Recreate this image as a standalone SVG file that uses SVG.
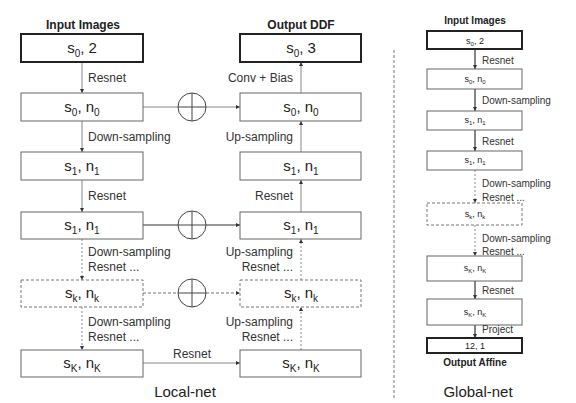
<svg xmlns="http://www.w3.org/2000/svg" width="576" height="403" viewBox="0 0 576 403">
<defs>
<marker id="ah" viewBox="0 0 6 6" refX="6" refY="3" markerWidth="4" markerHeight="4" orient="auto" markerUnits="userSpaceOnUse">
<path d="M0,0 L6,3 L0,6 z" fill="#333"/>
</marker>
<style>
.box{fill:#fff;stroke:#666;stroke-width:1}
.thick{fill:#fff;stroke:#222;stroke-width:2}
.dbox{fill:#fff;stroke:#777;stroke-width:1;stroke-dasharray:3,2}
.ln{fill:none;stroke:#888;stroke-width:1}
.lnd{fill:none;stroke:#333;stroke-width:1.2}
.dot{fill:none;stroke:#888;stroke-width:1;stroke-dasharray:2,2}
.dash{fill:none;stroke:#777;stroke-width:1;stroke-dasharray:3,2}
.bt{font-family:"Liberation Sans",Arial,sans-serif;font-size:15px;fill:#222;text-anchor:middle}
.st{font-family:"Liberation Sans",Arial,sans-serif;font-size:9px;fill:#222;text-anchor:middle}
.lb{font-family:"Liberation Sans",Arial,sans-serif;font-size:12px;fill:#333}
.lbs{font-family:"Liberation Sans",Arial,sans-serif;font-size:10px;fill:#333}
.hd{font-family:"Liberation Sans",Arial,sans-serif;font-size:12px;font-weight:bold;fill:#222;text-anchor:middle}
.hds{font-family:"Liberation Sans",Arial,sans-serif;font-size:10px;font-weight:bold;fill:#222;text-anchor:middle}
.tt{font-family:"Liberation Sans",Arial,sans-serif;font-size:15px;fill:#222;text-anchor:middle}
.circ{fill:#fff;stroke:#444;stroke-width:1}
</style>
</defs>

<!-- headings -->
<text class="hd" x="83" y="29">Input Images</text>
<text class="hd" x="301" y="29">Output DDF</text>
<text class="hds" x="475" y="24">Input Images</text>

<g id="connectors">
  <!-- local-net down path -->
  <line class="ln" x1="82" y1="62" x2="82" y2="93" marker-end="url(#ah)"/>
  <line class="ln" x1="82" y1="121" x2="82" y2="152" marker-end="url(#ah)"/>
  <line class="ln" x1="82" y1="180" x2="82" y2="212" marker-end="url(#ah)"/>
  <line class="dot" x1="82" y1="239" x2="82" y2="280" marker-end="url(#ah)"/>
  <line class="dot" x1="82" y1="307" x2="82" y2="350" marker-end="url(#ah)"/>
  <!-- local-net up path -->
  <line class="dot" x1="301" y1="350" x2="301" y2="307" marker-end="url(#ah)"/>
  <line class="dot" x1="301" y1="280" x2="301" y2="239" marker-end="url(#ah)"/>
  <line class="ln" x1="301" y1="212" x2="301" y2="180" marker-end="url(#ah)"/>
  <line class="ln" x1="301" y1="152" x2="301" y2="121" marker-end="url(#ah)"/>
  <line class="ln" x1="301" y1="93" x2="301" y2="62" marker-end="url(#ah)"/>
  <!-- skip connections -->
  <line class="ln" x1="143" y1="107" x2="178" y2="107"/>
  <line class="ln" x1="206" y1="107" x2="240" y2="107" marker-end="url(#ah)"/>
  <line class="lnd" x1="143" y1="225" x2="178" y2="225"/>
  <line class="lnd" x1="206" y1="225" x2="240" y2="225" marker-end="url(#ah)"/>
  <line class="dash" x1="143" y1="293" x2="178" y2="293"/>
  <line class="dash" x1="206" y1="293" x2="240" y2="293" marker-end="url(#ah)"/>
  <line class="ln" x1="143" y1="363" x2="240" y2="363" marker-end="url(#ah)"/>
  <!-- global-net -->
  <line class="lnd" x1="475" y1="49" x2="475" y2="69" marker-end="url(#ah)"/>
  <line class="lnd" x1="475" y1="89" x2="475" y2="111" marker-end="url(#ah)"/>
  <line class="lnd" x1="475" y1="130" x2="475" y2="151" marker-end="url(#ah)"/>
  <line class="dot" x1="475" y1="170" x2="475" y2="203" marker-end="url(#ah)"/>
  <line class="dot" x1="475" y1="225" x2="475" y2="256" marker-end="url(#ah)"/>
  <line class="lnd" x1="475" y1="281" x2="475" y2="299" marker-end="url(#ah)"/>
  <line class="lnd" x1="475" y1="325" x2="475" y2="338" marker-end="url(#ah)"/>
  <!-- separator -->
  <line class="dash" x1="394" y1="50" x2="394" y2="400" stroke-dasharray="2,2"/>
</g>

<!-- sum nodes -->
<g id="sum0"><circle class="circ" cx="192" cy="107" r="14"/><line x1="178" y1="107" x2="206" y2="107" stroke="#444"/><line x1="192" y1="93" x2="192" y2="121" stroke="#444"/></g>
<g id="sum1"><circle class="circ" cx="192" cy="225" r="14"/><line x1="178" y1="225" x2="206" y2="225" stroke="#444"/><line x1="192" y1="211" x2="192" y2="239" stroke="#444"/></g>
<g id="sumk"><circle class="circ" cx="192" cy="293" r="14"/><line x1="178" y1="293" x2="206" y2="293" stroke="#444"/><line x1="192" y1="279" x2="192" y2="307" stroke="#444"/></g>

<!-- local-net left column -->
<g id="L_in"><rect class="thick" x="21" y="34" width="122" height="28"/><text class="bt" x="82" y="53">s<tspan font-size="10" dy="4">0</tspan><tspan dy="-4">, 2</tspan></text></g>
<g id="L0"><rect class="box" x="21" y="93" width="122" height="28"/><text class="bt" x="82" y="112">s<tspan font-size="10" dy="4">0</tspan><tspan dy="-4">, n</tspan><tspan font-size="10" dy="4">0</tspan></text></g>
<g id="L1a"><rect class="box" x="21" y="152" width="122" height="28"/><text class="bt" x="82" y="171">s<tspan font-size="10" dy="4">1</tspan><tspan dy="-4">, n</tspan><tspan font-size="10" dy="4">1</tspan></text></g>
<g id="L1b"><rect class="box" x="21" y="212" width="122" height="27"/><text class="bt" x="82" y="230">s<tspan font-size="10" dy="4">1</tspan><tspan dy="-4">, n</tspan><tspan font-size="10" dy="4">1</tspan></text></g>
<g id="Lk"><rect class="dbox" x="21" y="280" width="122" height="27"/><text class="bt" x="82" y="298">s<tspan font-size="10" dy="4">k</tspan><tspan dy="-4">, n</tspan><tspan font-size="10" dy="4">k</tspan></text></g>
<g id="LK"><rect class="box" x="21" y="350" width="122" height="27"/><text class="bt" x="82" y="368">s<tspan font-size="10" dy="4">K</tspan><tspan dy="-4">, n</tspan><tspan font-size="10" dy="4">K</tspan></text></g>

<!-- local-net right column -->
<g id="R_out"><rect class="thick" x="240" y="34" width="121" height="28"/><text class="bt" x="301" y="53">s<tspan font-size="10" dy="4">0</tspan><tspan dy="-4">, 3</tspan></text></g>
<g id="R0"><rect class="box" x="240" y="93" width="121" height="28"/><text class="bt" x="301" y="112">s<tspan font-size="10" dy="4">0</tspan><tspan dy="-4">, n</tspan><tspan font-size="10" dy="4">0</tspan></text></g>
<g id="R1a"><rect class="box" x="240" y="152" width="121" height="28"/><text class="bt" x="301" y="171">s<tspan font-size="10" dy="4">1</tspan><tspan dy="-4">, n</tspan><tspan font-size="10" dy="4">1</tspan></text></g>
<g id="R1b"><rect class="box" x="240" y="212" width="121" height="27"/><text class="bt" x="301" y="230">s<tspan font-size="10" dy="4">1</tspan><tspan dy="-4">, n</tspan><tspan font-size="10" dy="4">1</tspan></text></g>
<g id="Rk"><rect class="dbox" x="240" y="280" width="121" height="27"/><text class="bt" x="301" y="298">s<tspan font-size="10" dy="4">k</tspan><tspan dy="-4">, n</tspan><tspan font-size="10" dy="4">k</tspan></text></g>
<g id="RK"><rect class="box" x="240" y="350" width="121" height="27"/><text class="bt" x="301" y="368">s<tspan font-size="10" dy="4">K</tspan><tspan dy="-4">, n</tspan><tspan font-size="10" dy="4">K</tspan></text></g>

<!-- local-net labels -->
<g id="local_labels">
<text class="lb" x="88" y="82">Resnet</text>
<text class="lb" x="88" y="141">Down-sampling</text>
<text class="lb" x="88" y="200">Resnet</text>
<text class="lb" x="88" y="256">Down-sampling</text>
<text class="lb" x="88" y="271">Resnet ...</text>
<text class="lb" x="88" y="326">Down-sampling</text>
<text class="lb" x="88" y="341">Resnet ...</text>
<text class="lb" x="293" y="82" text-anchor="end">Conv + Bias</text>
<text class="lb" x="293" y="141" text-anchor="end">Up-sampling</text>
<text class="lb" x="293" y="200" text-anchor="end">Resnet</text>
<text class="lb" x="293" y="256" text-anchor="end">Up-sampling</text>
<text class="lb" x="293" y="271" text-anchor="end">Resnet ...</text>
<text class="lb" x="293" y="326" text-anchor="end">Up-sampling</text>
<text class="lb" x="293" y="341" text-anchor="end">Resnet ...</text>
<text class="lb" x="192" y="358" text-anchor="middle">Resnet</text>
</g>

<!-- global-net -->
<g id="G_in"><rect class="thick" x="427" y="31" width="95" height="18" stroke-width="1.5"/><text class="st" x="475" y="44">s<tspan font-size="6" dy="2">0</tspan><tspan dy="-2">, 2</tspan></text></g>
<g id="G0"><rect class="box" x="427" y="69" width="95" height="20"/><text class="st" x="475" y="82">s<tspan font-size="6" dy="2">0</tspan><tspan dy="-2">, n</tspan><tspan font-size="6" dy="2">0</tspan></text></g>
<g id="G1a"><rect class="box" x="427" y="111" width="95" height="19"/><text class="st" x="475" y="123">s<tspan font-size="6" dy="2">1</tspan><tspan dy="-2">, n</tspan><tspan font-size="6" dy="2">1</tspan></text></g>
<g id="G1b"><rect class="box" x="427" y="151" width="95" height="19"/><text class="st" x="475" y="163">s<tspan font-size="6" dy="2">1</tspan><tspan dy="-2">, n</tspan><tspan font-size="6" dy="2">1</tspan></text></g>
<g id="Gk"><rect class="dbox" x="427" y="203" width="95" height="22"/><text class="st" x="475" y="217">s<tspan font-size="6" dy="2">k</tspan><tspan dy="-2">, n</tspan><tspan font-size="6" dy="2">k</tspan></text></g>
<g id="GK1"><rect class="box" x="427" y="256" width="95" height="25"/><text class="st" x="475" y="271">s<tspan font-size="6" dy="2">K</tspan><tspan dy="-2">, n</tspan><tspan font-size="6" dy="2">K</tspan></text></g>
<g id="GK2"><rect class="box" x="427" y="299" width="95" height="26"/><text class="st" x="475" y="315">s<tspan font-size="6" dy="2">K</tspan><tspan dy="-2">, n</tspan><tspan font-size="6" dy="2">K</tspan></text></g>
<g id="G_out"><rect class="thick" x="427" y="338" width="95" height="15" stroke-width="1.5"/><text class="st" x="475" y="349">12, 1</text></g>

<g id="global_labels">
<text class="lbs" x="482" y="64">Resnet</text>
<text class="lbs" x="482" y="104">Down-sampling</text>
<text class="lbs" x="482" y="145">Resnet</text>
<text class="lbs" x="482" y="187">Down-sampling</text>
<text class="lbs" x="482" y="201">Resnet ...</text>
<text class="lbs" x="482" y="242">Down-sampling</text>
<text class="lbs" x="482" y="255">Resnet ...</text>
<text class="lbs" x="482" y="294">Resnet</text>
<text class="lbs" x="482" y="333">Project</text>
<text class="hds" x="475" y="366">Output Affine</text>
</g>

<text class="tt" x="185" y="397">Local-net</text>
<text class="tt" x="478" y="397">Global-net</text>
</svg>
